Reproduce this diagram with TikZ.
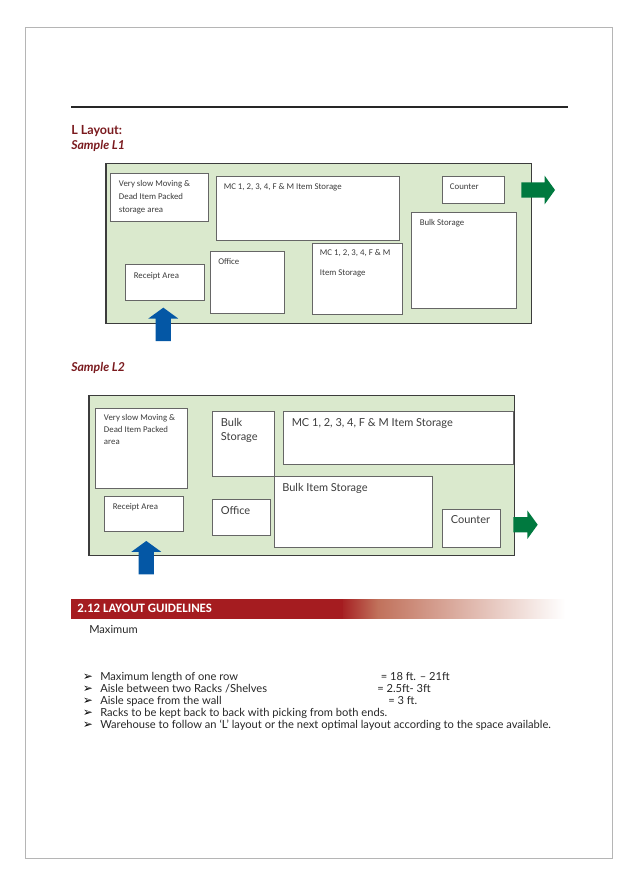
\documentclass[tikz,border=0pt]{standalone}
\usepackage{fontspec}
\setmainfont{Lato}
\newfontfamily\roomfont{Carlito}
\newfontfamily\bulletfont{DejaVu Sans}
\usepackage{xcolor}
\usetikzlibrary{arrows.meta,positioning,shapes,shapes.arrows,calc}
\definecolor{pageline}{HTML}{B5B5B5}
\definecolor{ink}{HTML}{3C3C3C}
\definecolor{roomline}{HTML}{666666}
\definecolor{floorgreen}{HTML}{DAE9CD}
\definecolor{titlered}{HTML}{7A1A1E}
\definecolor{bannerred}{HTML}{A51C20}
\definecolor{bannerfade}{HTML}{C0705A}
\definecolor{exitgreen}{HTML}{00793F}
\definecolor{entryblue}{HTML}{0457A5}
\tikzset{
  floorbox/.style={draw=ink,fill=floorgreen,line width=0.8pt,inner sep=0pt,
                   outer sep=0pt,anchor=north west},
  room/.style={draw=roomline,fill=white,line width=0.7pt,inner sep=0pt,
               outer sep=0pt,anchor=north west},
  roomtext/.style={anchor=north west,inner sep=0pt,align=left,text=ink,
                   font=\roomfont\fontsize{6.6}{9.5}\selectfont},
  bigtext/.style={anchor=north west,inner sep=0pt,align=left,text=ink,
                  font=\fontsize{8.25}{10.5}\selectfont},
  heading/.style={anchor=west,inner sep=0pt,text=titlered,
                  font=\bfseries\fontsize{9.4}{11}\selectfont},
  subheading/.style={heading,font=\bfseries\itshape\fontsize{9.2}{11}\selectfont},
  bodytext/.style={anchor=base west,inner sep=0pt,text=black!85,
                   font=\fontsize{8.35}{9}\selectfont},
  bulletmark/.style={anchor=base west,inner sep=0pt,
                     font=\bulletfont\fontsize{9}{9}\selectfont},
  exitarrow/.style={single arrow,fill=exitgreen,inner xsep=0pt,inner ysep=5.5pt,
                    outer sep=0pt,anchor=tail,
                    minimum width=21pt,single arrow head extend=5pt,
                    single arrow tip angle=108},
  entryarrow/.style={single arrow,fill=entryblue,inner xsep=0pt,inner ysep=5.5pt,
                     outer sep=0pt,anchor=tail,rotate=90,
                     minimum width=22pt,minimum height=25pt,
                     single arrow head extend=5.5pt,single arrow tip angle=108}
}
\begin{document}
\begin{tikzpicture}[x=0.75pt,y=-0.75pt]
  \useasboundingbox (0,0) rectangle (638,886);
  % page frame and top rule
  \draw[pageline,line width=0.6pt] (25.5,27.5) rectangle (612.5,858);
  \draw[black!85,line width=1.1pt] (71,107) -- (568,107);

  \node (titlemain) [heading] at (71,131.5) {L Layout:};
  \node (titleone) [subheading] at (71,145.5) {Sample L1};

  % sample L1
  \node (onefloor) [floorbox,minimum width=319.2pt,minimum height=119.5pt] at (106,163.7) {};
  \node (oneslow) [room,minimum width=73.2pt,minimum height=35.7pt] at (110.7,173.7) {};
  \node (oneslowtxt) [roomtext] at (118.7,180.5) {Very slow Moving \&\\Dead Item Packed\\storage area};
  \node (onemc) [room,minimum width=137.5pt,minimum height=47.5pt] at (216.3,176.7) {};
  \node (onemctxt) [roomtext] at (223.5,183) {MC 1, 2, 3, 4, F \& M Item Storage};
  \node (onecounter) [room,minimum width=46.7pt,minimum height=20pt] at (442,176.7) {};
  \node (onecountertxt) [roomtext] at (449.7,183.7) {Counter};
  \node (onebulk) [room,minimum width=79pt,minimum height=72pt] at (411.3,212.7) {};
  \node (onebulktxt) [roomtext] at (419.5,219) {Bulk Storage};
  \node (oneoffice) [room,minimum width=55.5pt,minimum height=46.2pt] at (210,251.7) {};
  \node (oneofficetxt) [roomtext] at (218,258) {Office};
  \node (onemctwo) [room,minimum width=67.8pt,minimum height=53pt] at (312.3,243.3) {};
  \node (onemctwotxt) [roomtext,font=\roomfont\fontsize{6.6}{14.7}\selectfont] at (319.7,249.5) {MC 1, 2, 3, 4, F \& M\\Item Storage};
  \node (onereceipt) [room,minimum width=59.5pt,minimum height=26.7pt] at (125.3,264.7) {};
  \node (onereceipttxt) [roomtext] at (133.5,272.2) {Receipt Area};
  \node (oneentry) [entryarrow] at (163.3,341) {};
  \node (oneexit) [exitarrow,minimum height=25.3pt] at (521.3,190) {};

  \node (titletwo) [subheading] at (71,368) {Sample L2};

  % sample L2
  \node (twofloor) [floorbox,minimum width=319.2pt,minimum height=119.5pt] at (89,395.7) {};
  \node (twoslow) [room,minimum width=69pt,minimum height=60pt] at (95.7,408.3) {};
  \node (twoslowtxt) [roomtext,font=\roomfont\fontsize{6.6}{9}\selectfont] at (103.7,414.5) {Very slow Moving \&\\Dead Item Packed\\area};
  \node (twobulk) [room,minimum width=46.2pt,minimum height=48.5pt] at (212.7,411.7) {};
  \node (twobulktxt) [bigtext] at (220.7,418) {Bulk\\Storage};
  \node (twomc) [room,minimum width=172.2pt,minimum height=39.5pt] at (283.7,411.7) {};
  \node (twomctxt) [bigtext] at (291.5,418) {MC 1, 2, 3, 4, F \& M Item Storage};
  \node (twobulkitem) [room,minimum width=119.2pt,minimum height=53.2pt] at (274,476.3) {};
  \node (twobulkitemtxt) [bigtext] at (282,483) {Bulk Item Storage};
  \node (twooffice) [room,minimum width=43pt,minimum height=27pt] at (212.7,499.7) {};
  \node (twoofficetxt) [bigtext] at (220.5,506) {Office};
  \node (twocounter) [room,minimum width=43.7pt,minimum height=28.7pt] at (442,509) {};
  \node (twocountertxt) [bigtext] at (450.5,515) {Counter};
  \node (tworeceipt) [room,minimum width=59.7pt,minimum height=26.7pt] at (104.3,496.3) {};
  \node (tworeceipttxt) [roomtext] at (112.5,503) {Receipt Area};
  \node (twoentry) [entryarrow] at (146.3,574.3) {};
  \node (twoexit) [exitarrow,minimum height=18.3pt] at (513.3,524.7) {};

  % guidelines banner
  \shade[left color=bannerfade,right color=white] (376,599) rectangle (565,618.3);
  \shade[left color=bannerred,right color=bannerfade] (340,599) rectangle (377,618.3);
  \fill[bannerred] (70.7,599) rectangle (343,618.9);
  \node (bannertxt) [anchor=west,inner sep=0pt,text=white,font=\roomfont\bfseries\fontsize{9.65}{11}\selectfont] at (77,608.5) {2.12 LAYOUT GUIDELINES};
  \node (maxtxt) [bodytext] at (89,633) {Maximum};

  \foreach \n/\ypos in {1/680.5,2/692.5,3/704.5,4/716.5,5/728.5}
    \node (mark\n) [bulletmark] at (82.5,\ypos) {➢};
  \node (rowone) [bodytext] at (100,680.5) {Maximum length of one row};
  \node (rowoneval) [bodytext] at (380.5,680.5) {= 18 ft. – 21ft};
  \node (rowtwo) [bodytext] at (100,692.5) {Aisle between two Racks /Shelves};
  \node (rowtwoval) [bodytext] at (377,692.5) {= 2.5ft- 3ft};
  \node (rowthree) [bodytext] at (100,704.5) {Aisle space from the wall};
  \node (rowthreeval) [bodytext] at (388,704.5) {= 3 ft.};
  \node (rowfour) [bodytext] at (100,716.5) {Racks to be kept back to back with picking from both ends.};
  \node (rowfive) [bodytext] at (100,728.5) {Warehouse to follow an ‘L’ layout or the next optimal layout according to the space available.};
\end{tikzpicture}
\end{document}
